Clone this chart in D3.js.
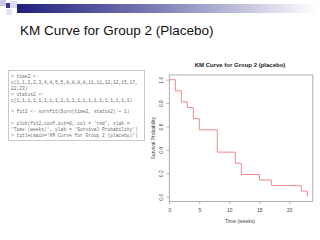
<!DOCTYPE html>
<html>
<head>
<meta charset="utf-8">
<script src="https://cdn.jsdelivr.net/npm/d3@7"></script>
<style>
  body { margin: 0; background: #fff; }
</style>
</head>
<body>
<script>
// KM estimate for group 2 (placebo)
var times = [0, 1, 2, 3, 4, 5, 8, 11, 12, 15, 17, 22, 23];
var surv = [1, 0.905, 0.810, 0.762, 0.667, 0.571, 0.381, 0.286, 0.190, 0.143, 0.095, 0.048, 0];
var xTicks = [0, 5, 10, 15, 20];
var yTicks = [0, 0.2, 0.4, 0.6, 0.8, 1.0];
var codeLines = [
  "> time2 <-",
  "c(1,1,2,2,3,4,4,5,5,8,8,8,8,11,11,12,12,15,17,",
  "22,23)",
  "> status2 <-",
  "c(1,1,1,1,1,1,1,1,1,1,1,1,1,1,1,1,1,1,1,1,1)",
  "",
  "> fit2 <- survfit(Surv(time2, status2) ~ 1)",
  "",
  "> plot(fit2,conf.int=0, col = 'red', xlab =",
  "'Time (weeks)', ylab = 'Survival Probability')",
  "> title(main='KM Curve for Group 2 (placebo)')"
];

var svg = d3.select("body").append("svg")
  .attr("width", 320)
  .attr("height", 240);

// slide header decoration
var defs = svg.append("defs");
var grad = defs.append("linearGradient").attr("id", "band");
grad.append("stop").attr("offset", "0%").attr("stop-color", "#20207e");
grad.append("stop").attr("offset", "45%").attr("stop-color", "#7a7ab4");
grad.append("stop").attr("offset", "100%").attr("stop-color", "#ffffff");
svg.append("rect").attr("x", 17).attr("y", 4).attr("width", 300).attr("height", 9)
  .attr("fill", "url(#band)");
svg.append("rect").attr("x", 0).attr("y", 0).attr("width", 6).attr("height", 6).attr("fill", "#c9c9e6");
svg.append("rect").attr("x", 6).attr("y", 3).attr("width", 4).attr("height", 5).attr("fill", "#3a3a90");
svg.append("rect").attr("x", 10).attr("y", 1).attr("width", 7).attr("height", 7).attr("fill", "#dcdcf0");
svg.append("rect").attr("x", 6).attr("y", 9).attr("width", 6).attr("height", 6).attr("fill", "#e4e4f4");

svg.append("text")
  .attr("x", 20).attr("y", 35)
  .attr("font-family", "Liberation Sans, Arial, sans-serif")
  .attr("font-size", 13.5)
  .attr("fill", "#111")
  .text("KM Curve for Group 2 (Placebo)");

// R code box
svg.append("rect").attr("x", 8.5).attr("y", 70.5).attr("width", 136).attr("height", 70)
  .attr("fill", "#fff").attr("stroke", "#c8c8c8").attr("stroke-width", 1);
svg.append("g").selectAll("text")
  .data(codeLines)
  .join("text")
  .attr("x", 11)
  .attr("y", function(d, i) { return 77.7 + i * 5.95; })
  .attr("font-family", "Liberation Mono, DejaVu Sans Mono, monospace")
  .attr("font-size", 4.6)
  .attr("fill", "#6a6a6a")
  .attr("xml:space", "preserve")
  .text(function(d) { return d; });

// KM plot
var x = d3.scaleLinear().domain([0, 23.92]).range([169.3, 312.8]);
var y = d3.scaleLinear().domain([-0.04, 1.04]).range([201.4, 75]);

svg.append("rect")
  .attr("x", x(0)).attr("y", y(1.04))
  .attr("width", x(23.92) - x(0)).attr("height", y(-0.04) - y(1.04))
  .attr("fill", "none").attr("stroke", "#9a9a9a").attr("stroke-width", 0.8);

var xAxis = svg.append("g")
  .attr("transform", "translate(0," + y(-0.04) + ")")
  .call(d3.axisBottom(x).tickValues(xTicks).tickSize(3).tickPadding(3).tickFormat(d3.format("d")));
var yAxis = svg.append("g")
  .attr("transform", "translate(" + x(0) + ",0)")
  .call(d3.axisLeft(y).tickValues(yTicks).tickSize(3).tickPadding(2).tickFormat(d3.format(".1f")));

[xAxis, yAxis].forEach(function(a) {
  a.select(".domain").remove();
  a.selectAll("line").attr("stroke", "#9a9a9a").attr("stroke-width", 0.7);
  a.selectAll("text")
    .attr("font-family", "Liberation Sans, Arial, sans-serif")
    .attr("font-size", 5)
    .attr("fill", "#444");
});

yAxis.selectAll(".tick text")
  .attr("text-anchor", "middle")
  .attr("transform", "rotate(-90)")
  .attr("x", 0)
  .attr("dy", 0)
  .attr("y", -6.5);
xAxis.selectAll(".tick text").attr("y", 7.5);

var line = d3.line()
  .x(function(d, i) { return x(times[i]); })
  .y(function(d) { return y(d); })
  .curve(d3.curveStepAfter);

svg.append("path")
  .datum(surv)
  .attr("d", line)
  .attr("fill", "none")
  .attr("stroke", "#f08a8a")
  .attr("stroke-width", 1);

svg.append("text")
  .attr("x", 240).attr("y", 67)
  .attr("text-anchor", "middle")
  .attr("font-family", "Liberation Sans, Arial, sans-serif")
  .attr("font-size", 6)
  .attr("font-weight", "bold")
  .attr("fill", "#222")
  .text("KM Curve for Group 2 (placebo)");

svg.append("text")
  .attr("x", 240).attr("y", 223)
  .attr("text-anchor", "middle")
  .attr("font-family", "Liberation Sans, Arial, sans-serif")
  .attr("font-size", 5)
  .attr("fill", "#444")
  .text("Time (weeks)");

svg.append("text")
  .attr("transform", "translate(154.5," + y(0.5) + ") rotate(-90)")
  .attr("text-anchor", "middle")
  .attr("font-family", "Liberation Sans, Arial, sans-serif")
  .attr("font-size", 5)
  .attr("fill", "#444")
  .text("Survival Probability");
</script>
</body>
</html>
